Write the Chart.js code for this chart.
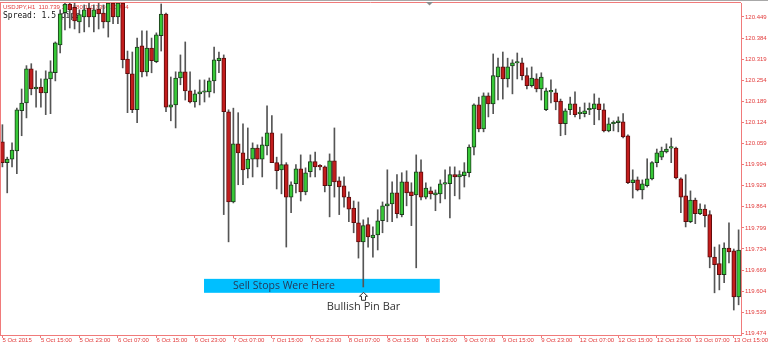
<!DOCTYPE html>
<html>
<head>
<meta charset="utf-8">
<title>USDJPY H1</title>
<script src="https://cdn.jsdelivr.net/npm/chart.js@4.4.0/dist/chart.umd.min.js"></script>
<style>
    html, body { margin: 0; padding: 0; background: #fff; }
    canvas { display: block; background: #fff; }
</style>
</head>
<body>
<canvas id="priceChart" width="768" height="346"></canvas>
<script>
// USDJPY H1 candles, 5 Oct 07:00 -> 13 Oct 16:00

const opens = [
    120.064, 120.000, 120.011, 120.036, 120.160, 120.184, 120.289, 120.227, 120.233, 120.215,
    120.258, 120.277, 120.363, 120.462, 120.489, 120.479, 120.434, 120.449, 120.476, 120.449,
    120.473, 120.461, 120.434, 120.492, 120.449, 120.492, 120.319, 120.274, 120.163, 120.360,
    120.280, 120.353, 120.311, 120.391, 120.458, 120.171, 120.178, 120.261, 120.280, 120.221,
    120.187, 120.212, 120.217, 120.218, 120.252, 120.314, 120.322, 120.157, 119.879, 120.058,
    120.030, 119.981, 120.011, 120.045, 120.011, 120.052, 120.092, 120.000, 119.978, 119.994,
    119.894, 119.935, 119.981, 119.910, 119.972, 120.003, 119.988, 119.987, 119.929, 120.006,
    119.944, 119.929, 119.894, 119.860, 119.815, 119.756, 119.809, 119.768, 119.777, 119.821,
    119.867, 119.873, 119.907, 119.840, 119.941, 119.910, 119.901, 119.972, 119.894, 119.913,
    119.901, 119.904, 119.934, 119.935, 119.963, 119.956, 119.960, 119.969, 120.048, 120.178,
    120.104, 120.206, 120.181, 120.264, 120.295, 120.258, 120.298, 120.307, 120.308, 120.268,
    120.237, 120.258, 120.227, 120.163, 120.218, 120.215, 120.190, 120.120, 120.163, 120.181,
    120.151, 120.151, 120.163, 120.166, 120.181, 120.163, 120.098, 120.120, 120.123, 120.126,
    120.083, 119.938, 119.947, 119.916, 119.929, 119.950, 120.000, 120.017, 120.033, 120.045,
    120.045, 119.950, 119.898, 119.818, 119.885, 119.843, 119.857, 119.840, 119.709, 119.689,
    119.655, 119.737, 119.728, 119.586
];

const highs = [
    120.117, 120.017, 120.061, 120.168, 120.227, 120.299, 120.305, 120.283, 120.258, 120.283,
    120.314, 120.372, 120.471, 120.495, 120.501, 120.492, 120.471, 120.486, 120.492, 120.486,
    120.492, 120.486, 120.495, 120.495, 120.495, 120.495, 120.344, 120.341, 120.384, 120.406,
    120.406, 120.384, 120.400, 120.489, 120.461, 120.264, 120.280, 120.332, 120.372, 120.280,
    120.224, 120.255, 120.255, 120.261, 120.356, 120.341, 120.332, 120.163, 120.168, 120.154,
    120.120, 120.107, 120.061, 120.055, 120.079, 120.175, 120.145, 120.017, 120.089, 120.000,
    119.941, 119.994, 120.024, 119.984, 120.024, 120.033, 119.994, 119.990, 120.027, 120.107,
    119.956, 119.956, 119.910, 119.882, 119.879, 119.824, 119.830, 119.802, 119.855, 119.879,
    119.978, 119.941, 119.963, 119.969, 119.975, 119.938, 120.024, 120.009, 119.938, 119.925,
    119.916, 119.947, 119.978, 119.987, 119.987, 119.975, 120.000, 120.055, 120.181, 120.202,
    120.215, 120.215, 120.335, 120.322, 120.341, 120.322, 120.317, 120.338, 120.322, 120.292,
    120.295, 120.274, 120.277, 120.230, 120.255, 120.227, 120.196, 120.166, 120.202, 120.218,
    120.171, 120.184, 120.184, 120.212, 120.199, 120.181, 120.138, 120.129, 120.141, 120.151,
    120.086, 119.978, 119.956, 119.947, 120.012, 120.003, 120.042, 120.048, 120.058, 120.076,
    120.048, 119.953, 119.963, 119.913, 119.891, 119.873, 119.870, 119.852, 119.740, 119.747,
    119.753, 119.815, 119.734, 119.793
];

const lows = [
    119.987, 119.907, 119.987, 119.966, 120.083, 120.138, 120.209, 120.171, 120.171, 120.148,
    120.151, 120.252, 120.338, 120.409, 120.415, 120.412, 120.400, 120.403, 120.418, 120.403,
    120.412, 120.415, 120.387, 120.428, 120.428, 120.292, 120.154, 120.154, 120.123, 120.264,
    120.267, 120.277, 120.308, 120.344, 120.157, 120.129, 120.107, 120.240, 120.193, 120.184,
    120.171, 120.178, 120.187, 120.202, 120.215, 120.277, 119.840, 119.756, 119.876, 119.932,
    119.932, 119.953, 119.956, 119.987, 119.956, 120.024, 120.000, 119.919, 119.904, 119.740,
    119.846, 119.907, 119.882, 119.901, 119.956, 119.956, 119.978, 119.910, 119.833, 119.894,
    119.840, 119.863, 119.818, 119.784, 119.706, 119.617, 119.740, 119.709, 119.731, 119.784,
    119.818, 119.818, 119.830, 119.833, 119.867, 119.806, 119.676, 119.885, 119.888, 119.888,
    119.852, 119.876, 119.888, 119.830, 119.898, 119.888, 119.925, 119.956, 120.024, 120.095,
    120.095, 120.141, 120.151, 120.193, 120.196, 120.233, 120.212, 120.258, 120.255, 120.227,
    120.233, 120.218, 120.193, 120.160, 120.184, 120.163, 120.083, 120.086, 120.148, 120.141,
    120.135, 120.141, 120.148, 120.117, 120.132, 120.095, 120.095, 120.098, 120.095, 120.076,
    119.935, 119.891, 119.913, 119.888, 119.925, 119.947, 119.987, 120.009, 120.030, 120.000,
    119.950, 119.846, 119.802, 119.815, 119.812, 119.840, 119.802, 119.676, 119.599, 119.608,
    119.630, 119.691, 119.546, 119.562
];

const closes = [
    120.000, 120.011, 120.039, 120.163, 120.184, 120.289, 120.227, 120.233, 120.215, 120.258,
    120.280, 120.369, 120.459, 120.489, 120.471, 120.437, 120.456, 120.471, 120.449, 120.471,
    120.458, 120.434, 120.492, 120.449, 120.492, 120.317, 120.274, 120.163, 120.356, 120.280,
    120.353, 120.314, 120.394, 120.458, 120.171, 120.178, 120.261, 120.280, 120.221, 120.187,
    120.212, 120.218, 120.218, 120.252, 120.317, 120.322, 120.157, 119.879, 120.058, 120.030,
    119.978, 120.011, 120.045, 120.011, 120.055, 120.092, 120.000, 119.975, 119.994, 119.894,
    119.932, 119.981, 119.910, 119.969, 120.003, 119.987, 119.987, 119.929, 120.006, 119.941,
    119.925, 119.894, 119.857, 119.815, 119.756, 119.806, 119.771, 119.777, 119.821, 119.867,
    119.873, 119.907, 119.843, 119.941, 119.907, 119.898, 119.972, 119.894, 119.922, 119.904,
    119.907, 119.935, 119.935, 119.963, 119.956, 119.963, 119.972, 120.048, 120.178, 120.104,
    120.206, 120.181, 120.268, 120.295, 120.258, 120.295, 120.308, 120.308, 120.268, 120.237,
    120.261, 120.227, 120.264, 120.221, 120.218, 120.187, 120.120, 120.160, 120.181, 120.148,
    120.151, 120.160, 120.163, 120.181, 120.163, 120.098, 120.120, 120.120, 120.129, 120.079,
    119.938, 119.947, 119.916, 119.935, 119.950, 120.000, 120.030, 120.036, 120.042, 120.045,
    119.953, 119.894, 119.818, 119.885, 119.843, 119.857, 119.837, 119.709, 119.686, 119.655,
    119.737, 119.725, 119.586, 119.731
];

// one label every 8 bars, starting with the first bar
const timeLabels = [
    '5 Oct 2015', '5 Oct 15:00', '5 Oct 23:00', '6 Oct 07:00', '6 Oct 15:00',
    '6 Oct 23:00', '7 Oct 07:00', '7 Oct 15:00', '7 Oct 23:00', '8 Oct 07:00',
    '8 Oct 15:00', '8 Oct 23:00', '9 Oct 07:00', '9 Oct 15:00', '9 Oct 23:00',
    '12 Oct 07:00', '12 Oct 15:00', '12 Oct 23:00', '13 Oct 07:00', '13 Oct 15:00'
];
const labelStep = 8;

const priceTicks = [
    119.474, 119.539, 119.604, 119.669, 119.734, 119.799, 119.864, 119.929,
    119.994, 120.059, 120.124, 120.189, 120.254, 120.319, 120.384, 120.449
];

const headerText = 'USDJPY,H1  110.739 110.880 110.739 110.784';
const spreadText = 'Spread: 1.5 pips';

// annotations (bar index / price)
const sellStopZone = { from: 41.9, to: 90.9, top: 119.642, bottom: 119.599, text: 'Sell Stops Were Here' };
const pinBar = { index: 75, text: 'Bullish Pin Bar' };

const axisRed = '#f07a7a';
const labelRed = '#e23b3b';
const bullFill = '#37c837';
const bullEdge = '#1c3c1c';
const bearFill = '#c21d1d';
const bearEdge = '#5e0c0c';
const wickColor = '#555555';

const isBull = i => closes[i] >= opens[i];

const overlayPlugin = {
    id: 'mt4Overlay',
    beforeDatasetsDraw(chart) {
        const { ctx, chartArea: area, scales: { x, y } } = chart;
        ctx.save();

        // header texts
        ctx.textBaseline = 'middle';
        ctx.textAlign = 'left';
        ctx.fillStyle = labelRed;
        ctx.font = '6px "Liberation Sans"';
        ctx.fillText(headerText, 3, 7);
        ctx.fillStyle = '#111';
        ctx.font = '8px "DejaVu Sans Mono"';
        ctx.fillText(spreadText, 3, 16);

        // sell stop zone
        const left = x.getPixelForValue(sellStopZone.from);
        const right = x.getPixelForValue(sellStopZone.to);
        const top = y.getPixelForValue(sellStopZone.top);
        const bottom = y.getPixelForValue(sellStopZone.bottom);
        ctx.fillStyle = '#00bfff';
        ctx.fillRect(left, top, right - left, bottom - top);
        ctx.fillStyle = '#243a5a';
        ctx.font = '10.5px "Open Sans"';
        ctx.fillText(sellStopZone.text, left + 29, (top + bottom) / 2);

        ctx.restore();
    },
    afterDraw(chart) {
        const { ctx, chartArea: area, scales: { x, y } } = chart;
        ctx.save();

        // window frame
        ctx.lineWidth = 1;
        ctx.strokeStyle = '#a8a8a8';
        ctx.beginPath();
        ctx.moveTo(0, 0.5);
        ctx.lineTo(chart.width, 0.5);
        ctx.stroke();
        ctx.strokeStyle = axisRed;
        ctx.beginPath();
        ctx.moveTo(0, area.top - 0.5);
        ctx.lineTo(area.right, area.top - 0.5);
        ctx.moveTo(0.5, area.top);
        ctx.lineTo(0.5, area.bottom);
        ctx.stroke();

        // chart shift marker
        ctx.fillStyle = '#8a8a8a';
        ctx.beginPath();
        ctx.moveTo(426, 2);
        ctx.lineTo(433, 2);
        ctx.lineTo(429.5, 5.5);
        ctx.closePath();
        ctx.fill();

        // pin bar arrow + label
        const cx = Math.round(x.getPixelForValue(pinBar.index)) + 0.5;
        const tip = y.getPixelForValue(sellStopZone.bottom) - 0.5;
        ctx.strokeStyle = '#333';
        ctx.fillStyle = '#fff';
        ctx.beginPath();
        ctx.moveTo(cx, tip);
        ctx.lineTo(cx + 4, tip + 4);
        ctx.lineTo(cx + 2, tip + 4);
        ctx.lineTo(cx + 2, tip + 8);
        ctx.lineTo(cx - 2, tip + 8);
        ctx.lineTo(cx - 2, tip + 4);
        ctx.lineTo(cx - 4, tip + 4);
        ctx.closePath();
        ctx.fill();
        ctx.stroke();

        ctx.fillStyle = '#333';
        ctx.font = '11px "Open Sans"';
        ctx.textAlign = 'center';
        ctx.textBaseline = 'middle';
        ctx.fillText(pinBar.text, cx, tip + 15);

        ctx.restore();
    }
};

const ctx = document.getElementById('priceChart').getContext('2d');
new Chart(ctx, {
    type: 'bar',
    data: {
        labels: opens.map((_, i) => i),
        datasets: [
            {
                label: 'Body',
                data: opens.map((o, i) => [o, closes[i]]),
                backgroundColor: c => isBull(c.dataIndex) ? bullFill : bearFill,
                borderColor: c => isBull(c.dataIndex) ? bullEdge : bearEdge,
                borderWidth: 1,
                borderSkipped: false,
                minBarLength: 1.5,
                barThickness: 4,
                grouped: false,
                order: 0
            },
            {
                label: 'Wick',
                data: lows.map((l, i) => [l, highs[i]]),
                backgroundColor: wickColor,
                borderWidth: 0,
                barThickness: 1,
                grouped: false,
                order: 1
            }
        ]
    },
    options: {
        responsive: false,
        animation: false,
        events: [],
        layout: { padding: { left: 0, top: 3, right: 0, bottom: 0 } },
        plugins: {
            legend: { display: false },
            tooltip: { enabled: false }
        },
        scales: {
            x: {
                offset: true,
                grid: {
                    drawOnChartArea: false,
                    offset: false,
                    tickLength: 3,
                    color: c => c.index % labelStep === 0 ? axisRed : 'rgba(0,0,0,0)'
                },
                border: { color: axisRed },
                ticks: {
                    autoSkip: false,
                    maxRotation: 0,
                    minRotation: 0,
                    align: 'start',
                    padding: -1,
                    color: labelRed,
                    font: { family: 'Liberation Sans', size: 6 },
                    callback: (v, i) => i % labelStep === 0 ? timeLabels[i / labelStep] : ''
                },
                afterFit: scale => {
                    scale.height = 11;
                    scale.paddingLeft = 0;
                    scale.paddingRight = 0;
                }
            },
            y: {
                position: 'right',
                min: 119.469,
                max: 120.492,
                afterBuildTicks: scale => {
                    scale.ticks = priceTicks.map(v => ({ value: v }));
                },
                grid: {
                    drawOnChartArea: false,
                    tickLength: 3,
                    color: axisRed
                },
                border: { color: axisRed },
                ticks: {
                    padding: 1,
                    color: labelRed,
                    font: { family: 'Liberation Sans', size: 6 },
                    callback: v => v.toFixed(3)
                },
                afterFit: scale => {
                    scale.width = 27;
                    scale.paddingTop = 0;
                    scale.paddingBottom = 0;
                }
            }
        }
    },
    plugins: [overlayPlugin]
});
</script>
</body>
</html>
